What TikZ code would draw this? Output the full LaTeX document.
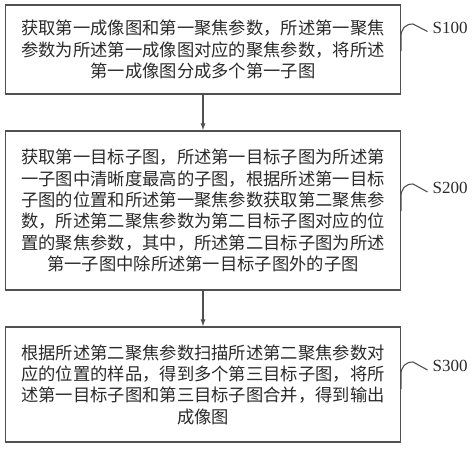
\documentclass[tikz,border=0pt]{standalone}
\usepackage{fontspec}
\setmainfont{Liberation Serif}
\newfontfamily\cjk{Noto Sans CJK SC}
\usetikzlibrary{arrows.meta}
\definecolor{ink}{HTML}{2A2A2A}
\definecolor{frame}{HTML}{505050}
\tikzset{
  stepbox/.style={draw=frame, line width=1.2pt, minimum width=394.5pt, inner sep=0pt,
    align=center, text=ink, font=\cjk\fontsize{17.3}{21.3}\selectfont},
  flow/.style={draw=frame, line width=1.1pt, -{Latex[length=7pt,width=5pt]}},
  tag/.style={anchor=west, inner sep=0pt, text=ink, font=\fontsize{17}{20}\selectfont},
  hook/.style={draw=frame, line width=1.1pt}
}
\begin{document}
\begin{tikzpicture}[x=1pt,y=-1pt]
\useasboundingbox (0,0) rectangle (474,448);
\node[stepbox, minimum height=89pt] (b1) at (203,49.5)
  {获取第一成像图和第一聚焦参数，所述第一聚焦\\参数为所述第一成像图对应的聚焦参数，将所述\\第一成像图分成多个第一子图};
\node[stepbox, minimum height=159pt] (b2) at (203,210.5)
  {获取第一目标子图，所述第一目标子图为所述第\\一子图中清晰度最高的子图，根据所述第一目标\\子图的位置和所述第一聚焦参数获取第二聚焦参\\数，所述第二聚焦参数为第二目标子图对应的位\\置的聚焦参数，其中，所述第二目标子图为所述\\第一子图中除所述第一目标子图外的子图};
\node[stepbox, minimum height=115pt] (b3) at (203,384.5)
  {根据所述第二聚焦参数扫描所述第二聚焦参数对\\应的位置的样品，得到多个第三目标子图，将所\\述第一目标子图和第三目标子图合并，得到输出\\成像图};
\draw[flow] (b1.south) -- (b2.north);
\draw[flow] (b2.south) -- (b3.north);
\node[tag] (s1) at (432.5,27.5) {S100};
\node[tag] (s2) at (432.5,188) {S200};
\node[tag] (s3) at (432.5,366) {S300};
\coordinate (c1) at (401,51);
\coordinate (c2) at (401,211);
\coordinate (c3) at (401,389);
\draw[hook] (c1) -- ++(0,-14) .. controls +(0,-8) and +(-8,0) .. ++(12,-13) -- ([xshift=-5pt,yshift=-4pt]s1.west);
\draw[hook] (c2) -- ++(0,-14) .. controls +(0,-8) and +(-8,0) .. ++(12,-13) -- ([xshift=-5pt,yshift=-4pt]s2.west);
\draw[hook] (c3) -- ++(0,-14) .. controls +(0,-8) and +(-8,0) .. ++(12,-13) -- ([xshift=-5pt,yshift=-4pt]s3.west);
\end{tikzpicture}
\end{document}
